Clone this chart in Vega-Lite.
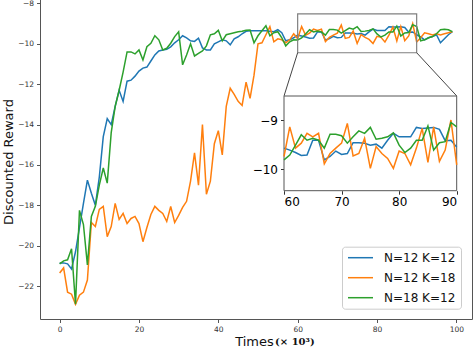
{
"$schema": "https://vega.github.io/schema/vega-lite/v6.json",
"width": 432, "height": 323,
"autosize": {"type": "none"},
"padding": {"left": 40, "top": -4, "right": 2, "bottom": 29},
"background": "white",
"config": {
  "font": "DejaVu Sans",
  "view": {"stroke": "#555", "strokeWidth": 1},
  "axis": {"grid": false, "domain": false, "tickColor": "#555", "tickSize": 3.5, "labelFont": "DejaVu Sans", "labelColor": "#333", "titleFont": "DejaVu Sans", "titleFontWeight": "normal", "titleColor": "#111"},
  "legend": {"orient": "none", "legendX": 302, "legendY": 250.7, "fillColor": "white", "strokeColor": "#cccccc", "cornerRadius": 3, "padding": 5, "symbolType": "M-1,0H4", "symbolSize": 100, "symbolStrokeWidth": 1.5, "labelFontSize": 12, "labelFont": "DejaVu Sans", "labelColor": "#111", "labelOffset": 25, "rowPadding": 8, "title": null}
},
"datasets": {"d": [
{"t":0,"N=12 K=12":-20.85,"N=12 K=18":-21.35,"N=18 K=12":-20.9},
{"t":1,"N=12 K=12":-20.85,"N=12 K=18":-21.1,"N=18 K=12":-20.75},
{"t":2,"N=12 K=12":-20.9,"N=12 K=18":-22.3,"N=18 K=12":-20.7},
{"t":3,"N=12 K=12":-21.15,"N=12 K=18":-22.4,"N=18 K=12":-20.15},
{"t":4,"N=12 K=12":-20.3,"N=12 K=18":-22.9,"N=18 K=12":-22.9},
{"t":5,"N=12 K=12":-19.1,"N=12 K=18":-22.45,"N=18 K=12":-18.25},
{"t":6,"N=12 K=12":-17.9,"N=12 K=18":-22.3,"N=18 K=12":-18.95},
{"t":7,"N=12 K=12":-16.75,"N=12 K=18":-21.7,"N=18 K=12":-20.95},
{"t":8,"N=12 K=12":-17.4,"N=12 K=18":-18.85,"N=18 K=12":-18.55},
{"t":9,"N=12 K=12":-18.0,"N=12 K=18":-19.05,"N=18 K=12":-18.05},
{"t":10,"N=12 K=12":-16.6,"N=12 K=18":-18.2,"N=18 K=12":-17.0},
{"t":11,"N=12 K=12":-14.6,"N=12 K=18":-18.05,"N=18 K=12":-16.15},
{"t":12,"N=12 K=12":-13.7,"N=12 K=18":-19.55,"N=18 K=12":-16.9},
{"t":13,"N=12 K=12":-14.0,"N=12 K=18":-19.05,"N=18 K=12":-14.4},
{"t":14,"N=12 K=12":-13.1,"N=12 K=18":-17.9,"N=18 K=12":-13.1},
{"t":15,"N=12 K=12":-12.3,"N=12 K=18":-18.7,"N=18 K=12":-12.3},
{"t":16,"N=12 K=12":-12.85,"N=12 K=18":-18.4,"N=18 K=12":-11.4},
{"t":17,"N=12 K=12":-11.85,"N=12 K=18":-18.9,"N=18 K=12":-10.4},
{"t":18,"N=12 K=12":-11.8,"N=12 K=18":-18.65,"N=18 K=12":-10.4},
{"t":19,"N=12 K=12":-11.6,"N=12 K=18":-18.55,"N=18 K=12":-10.5},
{"t":20,"N=12 K=12":-11.35,"N=12 K=18":-18.9,"N=18 K=12":-10.3},
{"t":21,"N=12 K=12":-11.2,"N=12 K=18":-19.8,"N=18 K=12":-10.8},
{"t":22,"N=12 K=12":-11.15,"N=12 K=18":-19.1,"N=18 K=12":-10.14},
{"t":23,"N=12 K=12":-10.85,"N=12 K=18":-18.45,"N=18 K=12":-9.97},
{"t":24,"N=12 K=12":-10.55,"N=12 K=18":-18.05,"N=18 K=12":-9.6},
{"t":25,"N=12 K=12":-10.35,"N=12 K=18":-18.25,"N=18 K=12":-9.8},
{"t":26,"N=12 K=12":-10.3,"N=12 K=18":-18.4,"N=18 K=12":-10.3},
{"t":27,"N=12 K=12":-10.27,"N=12 K=18":-18.8,"N=18 K=12":-10.22},
{"t":28,"N=12 K=12":-10.15,"N=12 K=18":-18.06,"N=18 K=12":-9.97},
{"t":29,"N=12 K=12":-9.95,"N=12 K=18":-18.85,"N=18 K=12":-9.64},
{"t":30,"N=12 K=12":-9.8,"N=12 K=18":-18.5,"N=18 K=12":-9.4},
{"t":31,"N=12 K=12":-9.6,"N=12 K=18":-18.1,"N=18 K=12":-11.04},
{"t":32,"N=12 K=12":-9.7,"N=12 K=18":-17.8,"N=18 K=12":-10.55},
{"t":33,"N=12 K=12":-9.85,"N=12 K=18":-16.8,"N=18 K=12":-10.0},
{"t":34,"N=12 K=12":-9.88,"N=12 K=18":-15.4,"N=18 K=12":-10.6},
{"t":35,"N=12 K=12":-9.72,"N=12 K=18":-17.0,"N=18 K=12":-10.47},
{"t":36,"N=12 K=12":-10.2,"N=12 K=18":-14.0,"N=18 K=12":-10.35},
{"t":37,"N=12 K=12":-10.3,"N=12 K=18":-17.45,"N=18 K=12":-10.1},
{"t":38,"N=12 K=12":-10.3,"N=12 K=18":-16.8,"N=18 K=12":-9.55},
{"t":39,"N=12 K=12":-10.0,"N=12 K=18":-14.95,"N=18 K=12":-9.5},
{"t":40,"N=12 K=12":-9.9,"N=12 K=18":-14.3,"N=18 K=12":-9.33},
{"t":41,"N=12 K=12":-9.8,"N=12 K=18":-15.5,"N=18 K=12":-9.85},
{"t":42,"N=12 K=12":-9.85,"N=12 K=18":-13.1,"N=18 K=12":-9.55},
{"t":43,"N=12 K=12":-10.05,"N=12 K=18":-12.2,"N=18 K=12":-9.5},
{"t":44,"N=12 K=12":-9.75,"N=12 K=18":-12.5,"N=18 K=12":-9.45},
{"t":45,"N=12 K=12":-9.65,"N=12 K=18":-12.85,"N=18 K=12":-9.4},
{"t":46,"N=12 K=12":-9.5,"N=12 K=18":-13.05,"N=18 K=12":-9.38},
{"t":47,"N=12 K=12":-9.38,"N=12 K=18":-11.9,"N=18 K=12":-9.33},
{"t":48,"N=12 K=12":-9.35,"N=12 K=18":-12.7,"N=18 K=12":-9.32},
{"t":49,"N=12 K=12":-9.35,"N=12 K=18":-11.55,"N=18 K=12":-9.95},
{"t":50,"N=12 K=12":-9.35,"N=12 K=18":-10.0,"N=18 K=12":-9.6},
{"t":51,"N=12 K=12":-9.35,"N=12 K=18":-9.95,"N=18 K=12":-9.35},
{"t":52,"N=12 K=12":-9.35,"N=12 K=18":-9.55,"N=18 K=12":-9.1},
{"t":53,"N=12 K=12":-9.38,"N=12 K=18":-9.15,"N=18 K=12":-9.6},
{"t":54,"N=12 K=12":-9.4,"N=12 K=18":-9.9,"N=18 K=12":-9.45},
{"t":55,"N=12 K=12":-9.3,"N=12 K=18":-9.75,"N=18 K=12":-9.4},
{"t":56,"N=12 K=12":-9.45,"N=12 K=18":-9.8,"N=18 K=12":-9.7},
{"t":57,"N=12 K=12":-9.85,"N=12 K=18":-9.95,"N=18 K=12":-10.1},
{"t":58,"N=12 K=12":-9.8,"N=12 K=18":-9.8,"N=18 K=12":-9.9},
{"t":59,"N=12 K=12":-9.7,"N=12 K=18":-9.5,"N=18 K=12":-9.8},
{"t":60,"N=12 K=12":-9.57,"N=12 K=18":-9.74,"N=18 K=12":-9.81},
{"t":61,"N=12 K=12":-9.61,"N=12 K=18":-9.14,"N=18 K=12":-9.71},
{"t":62,"N=12 K=12":-9.66,"N=12 K=18":-9.57,"N=18 K=12":-9.51},
{"t":63,"N=12 K=12":-9.72,"N=12 K=18":-9.47,"N=18 K=12":-9.3},
{"t":64,"N=12 K=12":-9.71,"N=12 K=18":-9.27,"N=18 K=12":-9.41},
{"t":65,"N=12 K=12":-9.41,"N=12 K=18":-9.34,"N=18 K=12":-9.37},
{"t":66,"N=12 K=12":-9.41,"N=12 K=18":-9.27,"N=18 K=12":-9.41},
{"t":67,"N=12 K=12":-9.81,"N=12 K=18":-9.89,"N=18 K=12":-9.57},
{"t":68,"N=12 K=12":-9.74,"N=12 K=18":-9.68,"N=18 K=12":-9.29},
{"t":69,"N=12 K=12":-9.63,"N=12 K=18":-9.57,"N=18 K=12":-9.29},
{"t":70,"N=12 K=12":-9.7,"N=12 K=18":-9.47,"N=18 K=12":-9.32},
{"t":71,"N=12 K=12":-9.68,"N=12 K=18":-9.07,"N=18 K=12":-9.47},
{"t":72,"N=12 K=12":-9.46,"N=12 K=18":-9.73,"N=18 K=12":-9.34},
{"t":73,"N=12 K=12":-9.46,"N=12 K=18":-9.68,"N=18 K=12":-9.22},
{"t":74,"N=12 K=12":-9.47,"N=12 K=18":-9.37,"N=18 K=12":-9.27},
{"t":75,"N=12 K=12":-9.51,"N=12 K=18":-9.98,"N=18 K=12":-9.15},
{"t":76,"N=12 K=12":-9.49,"N=12 K=18":-9.54,"N=18 K=12":-9.39},
{"t":77,"N=12 K=12":-9.57,"N=12 K=18":-9.68,"N=18 K=12":-9.37},
{"t":78,"N=12 K=12":-9.41,"N=12 K=18":-9.78,"N=18 K=12":-9.34},
{"t":79,"N=12 K=12":-9.27,"N=12 K=18":-9.98,"N=18 K=12":-9.26},
{"t":80,"N=12 K=12":-9.34,"N=12 K=18":-9.63,"N=18 K=12":-9.51},
{"t":81,"N=12 K=12":-9.34,"N=12 K=18":-9.68,"N=18 K=12":-9.66},
{"t":82,"N=12 K=12":-9.34,"N=12 K=18":-9.91,"N=18 K=12":-9.57},
{"t":83,"N=12 K=12":-9.15,"N=12 K=18":-9.57,"N=18 K=12":-9.41},
{"t":84,"N=12 K=12":-9.17,"N=12 K=18":-9.17,"N=18 K=12":-9.41},
{"t":85,"N=12 K=12":-9.16,"N=12 K=18":-9.86,"N=18 K=12":-9.12},
{"t":86,"N=12 K=12":-9.15,"N=12 K=18":-9.14,"N=18 K=12":-9.61},
{"t":87,"N=12 K=12":-9.19,"N=12 K=18":-9.84,"N=18 K=12":-9.46},
{"t":88,"N=12 K=12":-9.42,"N=12 K=18":-9.61,"N=18 K=12":-9.44},
{"t":89,"N=12 K=12":-9.41,"N=12 K=18":-9.0,"N=18 K=12":-9.05},
{"t":90,"N=12 K=12":-9.55,"N=12 K=18":-9.91,"N=18 K=12":-9.14},
{"t":91,"N=12 K=12":-9.65,"N=12 K=18":-9.7,"N=18 K=12":-9.85},
{"t":92,"N=12 K=12":-9.8,"N=12 K=18":-9.45,"N=18 K=12":-9.8},
{"t":93,"N=12 K=12":-9.7,"N=12 K=18":-9.5,"N=18 K=12":-9.7},
{"t":94,"N=12 K=12":-9.64,"N=12 K=18":-9.56,"N=18 K=12":-9.64},
{"t":95,"N=12 K=12":-9.55,"N=12 K=18":-9.5,"N=18 K=12":-9.5},
{"t":96,"N=12 K=12":-9.95,"N=12 K=18":-9.56,"N=18 K=12":-9.3},
{"t":97,"N=12 K=12":-9.75,"N=12 K=18":-9.5,"N=18 K=12":-9.28},
{"t":98,"N=12 K=12":-9.55,"N=12 K=18":-9.45,"N=18 K=12":-9.3},
{"t":99,"N=12 K=12":-9.4,"N=12 K=18":-9.4,"N=18 K=12":-9.4}
]},
"layer": [
  {"layer": [
    {"data": {"name": "d"},
     "transform": [{"fold": ["N=12 K=12", "N=12 K=18", "N=18 K=12"], "as": ["series", "value"]}],
     "mark": {"type": "line", "strokeWidth": 1.5},
     "encoding": {
       "x": {"field": "t", "type": "quantitative", "scale": {"domain": [-4.95, 103.95], "nice": false, "zero": false},
             "axis": {"values": [0, 20, 40, 60, 80, 100], "format": "d", "labelFontSize": 7.5, "labelPadding": 3, "title": "Times", "titleFontSize": 13, "titleX": 214, "titleY": 26, "titleBaseline": "alphabetic", "titleAlign": "center"}},
       "y": {"field": "value", "type": "quantitative", "scale": {"domain": [-23.63, -7.63], "nice": false, "zero": false},
             "axis": {"values": [-22, -20, -18, -16, -14, -12, -10, -8], "format": "d", "labelFontSize": 7.5, "labelPadding": 3, "title": "Discounted Reward", "titleFontSize": 13, "titleX": -32, "titleY": 165.5, "titleAngle": -90, "titleBaseline": "middle", "titleAlign": "center"}},
       "color": {"field": "series", "type": "nominal", "scale": {"domain": ["N=12 K=12", "N=12 K=18", "N=18 K=12"], "range": ["#1f77b4", "#ff7f0e", "#2ca02c"]}, "legend": {}}
     }},
    {"data": {"values": [{"x": 60, "x2": 90, "y": -10.44, "y2": -8.52}]},
     "mark": {"type": "rect", "fill": "transparent", "stroke": "#808080", "strokeWidth": 1.2},
     "encoding": {"x": {"field": "x", "type": "quantitative", "scale": {"domain": [-4.95, 103.95], "nice": false, "zero": false}}, "x2": {"field": "x2"}, "y": {"field": "y", "type": "quantitative", "scale": {"domain": [-23.63, -7.63], "nice": false, "zero": false}}, "y2": {"field": "y2"}}},
    {"data": {"values": [{"x": 60, "y": -10.44, "x2": 56.57, "y2": -12.58}, {"x": 90, "y": -10.44, "x2": 100.1, "y2": -12.58}]},
     "mark": {"type": "rule", "stroke": "#444", "strokeWidth": 1},
     "encoding": {"x": {"field": "x", "type": "quantitative", "scale": {"domain": [-4.95, 103.95], "nice": false, "zero": false}}, "x2": {"field": "x2"}, "y": {"field": "y", "type": "quantitative", "scale": {"domain": [-23.63, -7.63], "nice": false, "zero": false}}, "y2": {"field": "y2"}}},
    {"data": {"values": [{"x": 59.3, "y": -24.92, "label": "(× 10³)"}]},
     "mark": {"type": "text", "font": "DejaVu Serif", "fontWeight": "bold", "fontSize": 10, "align": "center", "baseline": "alphabetic", "color": "#111"},
     "encoding": {"x": {"field": "x", "type": "quantitative", "scale": {"domain": [-4.95, 103.95], "nice": false, "zero": false}}, "y": {"field": "y", "type": "quantitative", "scale": {"domain": [-23.63, -7.63], "nice": false, "zero": false}}, "text": {"field": "label"}}}
  ]},
  {"layer": [
    {"data": {"values": [{"x": 60, "x2": 90, "y": -10.434, "y2": -8.513}]},
     "mark": {"type": "rect", "fill": "white", "stroke": "#555", "strokeWidth": 1},
     "encoding": {
       "x": {"field": "x", "type": "quantitative", "scale": {"domain": [60, 90], "range": [244, 416.7], "nice": false, "zero": false},
             "axis": {"orient": "bottom", "offset": -128.3, "values": [60, 70, 80, 90], "format": "d", "labelFontSize": 12, "labelColor": "#000", "labelPadding": 2, "tickColor": "#333", "title": null}},
       "x2": {"field": "x2"},
       "y": {"field": "y", "type": "quantitative", "scale": {"domain": [-10.434, -8.513], "range": [194.7, 100], "nice": false, "zero": false},
             "axis": {"orient": "left", "offset": -244, "values": [-10, -9], "format": "d", "labelFontSize": 12, "labelColor": "#000", "labelPadding": 3, "tickColor": "#333", "title": null}},
       "y2": {"field": "y2"}
     }},
    {"data": {"name": "d"},
     "transform": [{"filter": "datum.t >= 60 && datum.t <= 90"}, {"fold": ["N=12 K=12", "N=12 K=18", "N=18 K=12"], "as": ["series", "value"]}],
     "mark": {"type": "line", "strokeWidth": 1.5},
     "encoding": {
       "x": {"field": "t", "type": "quantitative", "scale": {"domain": [60, 90], "range": [244, 416.7], "nice": false, "zero": false}},
       "y": {"field": "value", "type": "quantitative", "scale": {"domain": [-10.434, -8.513], "range": [194.7, 100], "nice": false, "zero": false}},
       "color": {"field": "series", "type": "nominal", "legend": null}
     }}
  ]}
],
"resolve": {"scale": {"x": "independent", "y": "independent"}}
}
